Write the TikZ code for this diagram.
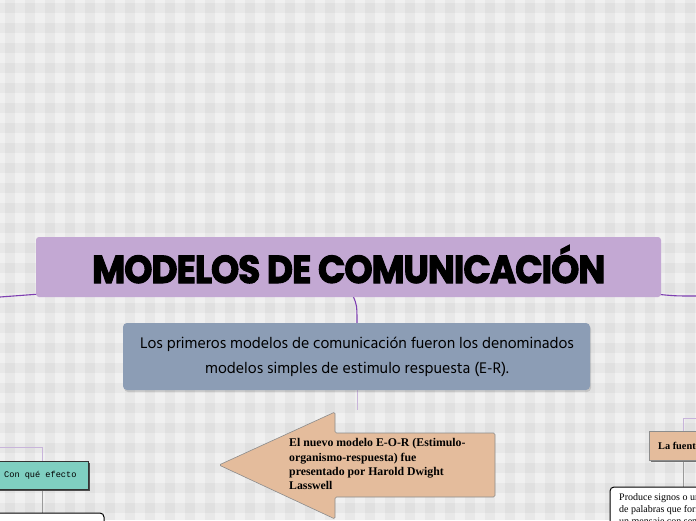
\documentclass[tikz,border=0pt]{standalone}
\usepackage{fontspec}
\usepackage{graphicx}
\setmainfont{Liberation Serif}
\newfontfamily\titlefont{Poppins}[BoldFeatures={FakeBold=2.6}, LetterSpace=-3]
\newfontfamily\sumfont{Hind Madurai}
\newfontfamily\slabfont{Liberation Serif}
\newfontfamily\monofont{Liberation Mono}
\definecolor{bgbase}{HTML}{F0F0F0}
\definecolor{titlepurple}{HTML}{C3A8D3}
\definecolor{linepurple}{HTML}{7E3FB1}
\definecolor{lightpurple}{HTML}{C8B4DA}
\definecolor{sumblue}{HTML}{8C9DB5}
\definecolor{tan}{HTML}{E4BC9C}
\definecolor{teal}{HTML}{7FCFC1}
\definecolor{graylink}{HTML}{9A9A9A}
\tikzset{
  mainlink/.style={draw=linepurple, line width=1.1pt},
  sublink/.style={draw=lightpurple, line width=0.9pt},
  graylinkst/.style={draw=graylink, line width=0.9pt},
}
\begin{document}
\begin{tikzpicture}[x=1pt,y=-1pt]
\useasboundingbox (0,0) rectangle (696,520);
% background gingham
\fill[bgbase] (0,0) rectangle (696,520);
\foreach \i in {0,...,34} {
  \fill[black, opacity=0.032] ({20*\i+5},0) rectangle ({20*\i+15},520);
}
\foreach \j in {0,...,26} {
  \fill[black, opacity=0.032] (0,{20*\j+3}) rectangle (696,{20*\j+13});
}
% ---------- coordinates for connectors
\coordinate (leftend) at (0,297);
\coordinate (rightend) at (696,296);
% ---------- connectors behind nodes
\draw[mainlink] (40,294) .. controls (20,295) .. (leftend);
\draw[mainlink] (655,294) .. controls (675,296) .. (rightend);
\draw[mainlink] (353,296) .. controls (357,305) .. (357,326);
\draw[sublink] (357,388) -- (357,410);
% ---------- title
\fill[titlepurple, rounded corners=3pt] (36,237) rectangle (661,297);
\node[anchor=base west, inner sep=0pt] (title) at (92,283)
  {\resizebox{513pt}{38pt}{\titlefont\bfseries MODELOS DE COMUNICACIÓN}};
% ---------- summary
\fill[black, opacity=0.12, rounded corners=4pt] (124,325) rectangle (591,392);
\fill[sumblue, rounded corners=4pt] (123,323) rectangle (590,390);
\node[align=center, inner sep=0pt, font=\sumfont\fontsize{15.8}{25}\selectfont] (summary) at (357,357)
  {Los primeros modelos de comunicación fueron los denominados\\modelos simples de estimulo respuesta (E-R).};
% ---------- arrow
\draw[fill=tan, draw=black!45, line width=0.6pt, rounded corners=1.5pt]
  (219,465) -- (335,412) -- (335,433) -- (495,433) -- (495,497) -- (335,497) -- (335,519) -- cycle;
\node[anchor=north west, align=left, inner sep=0pt, font=\slabfont\bfseries\fontsize{11.8}{14.2}\selectfont] (arrowtext) at (289,438.5)
  {El nuevo modelo E-O-R (Estimulo-\\organismo-respuesta) fue\\presentado por Harold Dwight\\Lasswell};
% ---------- left branch
\coordinate (lcorner) at (42,447);
\draw[sublink] (0,447) -- (lcorner) -- (42,461);
\draw[graylinkst] (42,489) -- (42,513);
\fill[black!70] (-5,463) rectangle (90,491);
\draw[fill=teal, draw=black!80, line width=0.8pt] (-5,461) rectangle (88,489);
\node[anchor=west, inner sep=0pt, font=\monofont\fontsize{8.6}{10}\selectfont] (efecto) at (4,475) {Con qué efecto};
\draw[fill=white, draw=black, line width=1pt, rounded corners=4pt] (-5,513) rectangle (104,540);
% ---------- right branch
\coordinate (rcorner) at (683,418);
\draw[sublink] (700,418) -- (rcorner) -- (683,431);
\draw[graylinkst] (683,460) -- (683,487);
\fill[black!55] (651,433) rectangle (700,462);
\draw[fill=tan, draw=black!45, line width=0.6pt] (649,431) rectangle (700,460);
\node[anchor=base west, inner sep=0pt, font=\slabfont\bfseries\fontsize{10.3}{12}\selectfont] (fuente) at (658,449) {La fuente};
\draw[fill=white, draw=black, line width=1pt, rounded corners=4pt] (610,487) rectangle (710,540);
\node[anchor=north west, align=left, inner sep=0pt, font=\slabfont\fontsize{10}{12.3}\selectfont] (produce) at (619,493)
  {Produce signos o un\\de palabras que forman\\un mensaje con sentido};
\end{tikzpicture}
\end{document}
